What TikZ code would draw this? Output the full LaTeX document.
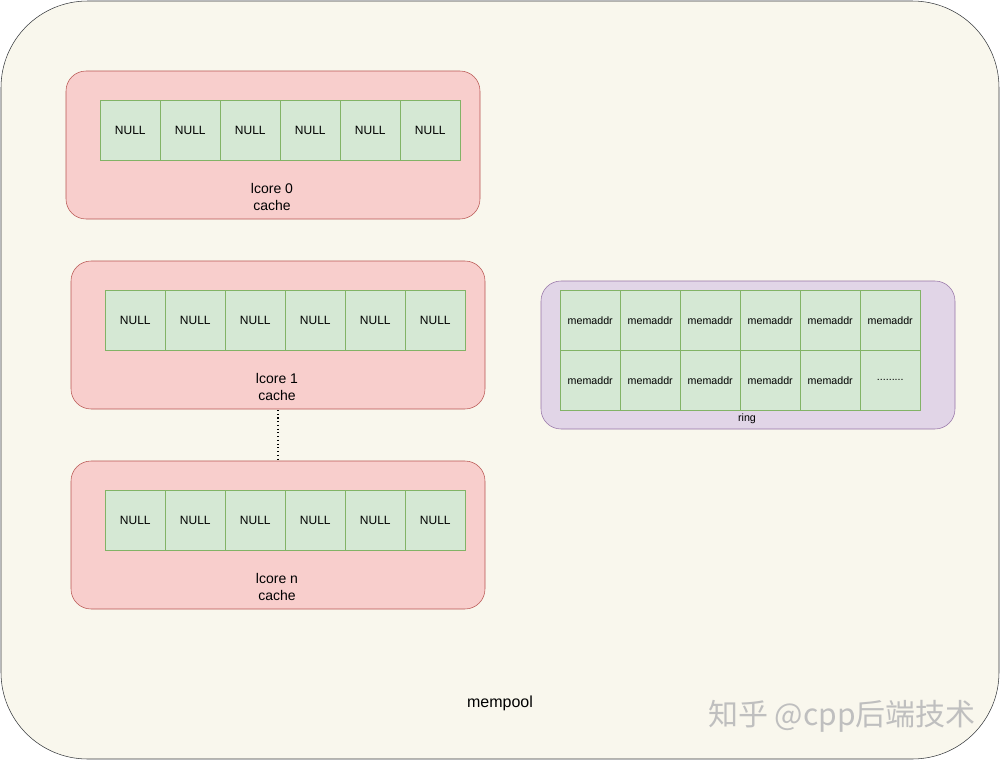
\documentclass[tikz,border=0pt]{standalone}
\usepackage{fontspec}
\setmainfont{Liberation Sans}
\newfontfamily\cjk{Noto Sans CJK SC}
\definecolor{bgF}{HTML}{F9F7ED}\definecolor{bgD}{HTML}{36393D}
\definecolor{rF}{HTML}{F8CECC}\definecolor{rD}{HTML}{B85450}
\definecolor{gF}{HTML}{D5E8D4}\definecolor{gD}{HTML}{82B366}
\definecolor{pF}{HTML}{E1D5E7}\definecolor{pD}{HTML}{9673A6}
\begin{document}
\begin{tikzpicture}[x=0.75pt,y=-0.75pt,
 cache/.style={fill=rF,draw=rD,rounded corners=15pt},
 cell/.style={fill=gF,draw=gD,minimum width=45pt,minimum height=45pt,inner sep=0pt,anchor=north west,font=\fontsize{9}{10}\selectfont},
 lab/.style={font=\fontsize{10.5}{12.5}\selectfont,align=center}]
\useasboundingbox (0,0) rectangle (1001,761);
\draw[fill=bgF,draw=bgD,rounded corners=65pt] (1,1) rectangle (999,759);
\draw[cache] (66,71) rectangle (480,219);
\draw[cache] (71,261) rectangle (485,409);
\draw[cache] (71,461) rectangle (485,609);
\draw[fill=pF,draw=pD,rounded corners=15pt] (541,281) rectangle (955,429);
\foreach \i in {0,...,5}{
 \node[cell] (a\i) at (100+60*\i,100) {NULL};
 \node[cell] (b\i) at (105+60*\i,290) {NULL};
 \node[cell] (c\i) at (105+60*\i,490) {NULL};
 \node[cell,font=\fontsize{8}{9}\selectfont] (r\i) at (560+60*\i,290) {memaddr};
}
\foreach \i in {0,...,4}{\node[cell,font=\fontsize{8}{9}\selectfont] (s\i) at (560+60*\i,350) {memaddr};}
\node[cell,font=\fontsize{8}{9}\selectfont] (s5) at (860,350) {.........};
\node[lab] (l0) at (272,197) {lcore 0\\cache};
\node[lab] (l1) at (277,387) {lcore 1\\cache};
\node[lab] (ln) at (277,587) {lcore n\\cache};
\coordinate (d1) at (278,410); \coordinate (d2) at (278,460);
\draw[dotted,thick] (d1) -- (d2);
\node[font=\fontsize{8}{9}\selectfont] (ring) at (747,419) {ring};
\node[font=\fontsize{12}{14}\selectfont] (mp) at (500,703) {mempool};
\node[font=\cjk\fontsize{22.5}{26}\selectfont,text=black!25] (wm) at (842,716) {知乎 @cpp后端技术};
\end{tikzpicture}
\end{document}
